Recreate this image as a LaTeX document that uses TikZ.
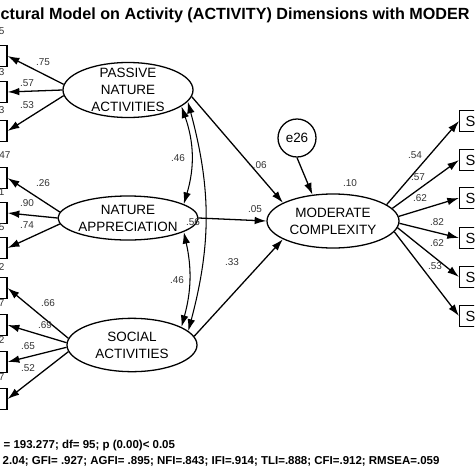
\documentclass[tikz,border=0pt]{standalone}
\usepackage{fontspec}
\setmainfont{Liberation Sans}
\usetikzlibrary{shapes.geometric,arrows.meta}

\begin{document}
\begin{tikzpicture}[x=0.03cm,y=-0.03cm,line width=1.1pt,
  latent/.style={draw,ellipse,inner sep=0pt},
  ltext/.style={align=center,font=\fontsize{11.5}{14.5}\selectfont},
  obsbox/.style={draw,minimum width=0.72cm,minimum height=0.62cm,inner sep=0pt},
  itembox/.style={draw,anchor=west,minimum height=0.62cm,text width=1.0cm,inner xsep=5pt,inner ysep=0pt,align=left,font=\fontsize{12.5}{14}\selectfont},
  effect/.style={-{Latex[length=10pt,width=6.5pt]}},
  cov/.style={{Latex[length=10pt,width=6.5pt]}-{Latex[length=10pt,width=6.5pt]},line width=0.9pt},
  coef/.style={font=\fontsize{8.5}{10}\selectfont,text=black!80,inner sep=0pt},
  frag/.style={font=\fontsize{8.5}{10}\selectfont,text=black!80,inner sep=0pt,anchor=base east}]
  \useasboundingbox (0,0) rectangle (474,474);
  \clip (0,0) rectangle (474,474);
  \node[anchor=base west,inner sep=0pt,font=\bfseries\fontsize{13.8}{16}\selectfont] (title) at (0,19) {ctural Model on Activity (ACTIVITY) Dimensions with MODER};

  % latent variables
  \node[latent,minimum width=3.9cm,minimum height=1.65cm,label={[ltext,name=pnatxt]center:PASSIVE\\NATURE\\ACTIVITIES}] (pna) at (128,90) {};
  \node[latent,minimum width=4.2cm,minimum height=1.32cm,label={[ltext,name=naptxt]center:NATURE\\APPRECIATION}] (nap) at (128,218) {};
  \node[latent,minimum width=3.9cm,minimum height=1.6cm,label={[ltext,name=soctxt]center:SOCIAL\\ACTIVITIES}] (soc) at (132,345) {};
  \node[latent,minimum width=3.96cm,minimum height=1.62cm,label={[ltext,name=modtxt]center:MODERATE\\COMPLEXITY}] (mod) at (333,221) {};
  \node[draw,circle,minimum size=1.14cm,inner sep=0pt,font=\fontsize{11.5}{14}\selectfont] (e26) at (297,138) {e26};

  % observed items, left
  \node[obsbox] (p1) at (-5,56) {};
  \node[obsbox] (p2) at (-5,92) {};
  \node[obsbox] (p3) at (-5,131) {};
  \node[obsbox] (n1) at (-5,178) {};
  \node[obsbox] (n2) at (-5,213) {};
  \node[obsbox] (n3) at (-5,248) {};
  \node[obsbox] (s1) at (-5,288) {};
  \node[obsbox] (s2) at (-5,325) {};
  \node[obsbox] (s3) at (-5,362) {};
  \node[obsbox] (s4) at (-5,399) {};
  \node[frag] (fp1) at (5,34) {5};
  \node[frag] (fp2) at (5,75) {3};
  \node[frag] (fp3) at (5,113) {3};
  \node[frag] (fn1) at (11,158) {47};
  \node[frag] (fn2) at (5,195) {1};
  \node[frag] (fn3) at (5,230) {5};
  \node[frag] (fs1) at (5,270) {2};
  \node[frag] (fs2) at (5,306) {7};
  \node[frag] (fs3) at (5,343) {2};
  \node[frag] (fs4) at (5,380) {7};

  % observed items, right
  \node[itembox] (m1) at (459,121) {S};
  \node[itembox] (m2) at (459,160) {S};
  \node[itembox] (m3) at (459,198) {S};
  \node[itembox] (m4) at (459,238) {S};
  \node[itembox] (m5) at (459,277) {S};
  \node[itembox] (m6) at (459,316) {S};

  % loadings
  \draw[effect] (pna.175) -- (p1.east);
  \draw[effect] (pna.180) -- (p2.east);
  \draw[effect] (pna.185) -- (p3.east);
  \draw[effect] (nap.175) -- (n1.east);
  \draw[effect] (nap.180) -- (n2.east);
  \draw[effect] (nap.185) -- (n3.east);
  \draw[effect] (soc.174) -- (s1.east);
  \draw[effect] (soc.178) -- (s2.east);
  \draw[effect] (soc.182) -- (s3.east);
  \draw[effect] (soc.186) -- (s4.east);
  \draw[effect] (mod.17) -- (m1.west);
  \draw[effect] (mod.12) -- (m2.west);
  \draw[effect] (mod.4) -- (m3.west);
  \draw[effect] (mod.-2) -- (m4.west);
  \draw[effect] (mod.-6) -- (m5.west);
  \draw[effect] (mod.-10) -- (m6.west);

  % structural paths
  \draw[effect] (pna.-6) -- (mod.160);
  \draw[effect] (nap.east) -- (mod.west);
  \draw[effect] (soc.8) -- (mod.200);
  \draw[effect] (e26.south) -- (mod.128);
  \draw[cov] (pna.-17) to[bend left=18] (nap.14);
  \draw[cov] (nap.-14) to[bend left=14] (soc.20);
  \draw[cov] (pna.-11) to[bend left=15] (soc.14);

  % estimates
  \node[coef] (l1) at (43,62) {.75};
  \node[coef] (l2) at (27,83) {.57};
  \node[coef] (l3) at (27,105) {.53};
  \node[coef] (l4) at (43,183) {.26};
  \node[coef] (l5) at (27,203) {.90};
  \node[coef] (l6) at (27,225) {.74};
  \node[coef] (l7) at (48,303) {.66};
  \node[coef] (l8) at (45,325) {.69};
  \node[coef] (l9) at (28,346) {.65};
  \node[coef] (l10) at (28,368) {.52};
  \node[coef] (r1) at (415,155) {.54};
  \node[coef] (r2) at (418,177) {.57};
  \node[coef] (r3) at (420,198) {.62};
  \node[coef] (r4) at (437,222) {.82};
  \node[coef] (r5) at (437,243) {.62};
  \node[coef] (r6) at (435,266) {.53};
  \node[coef] (k1) at (178,158) {.46};
  \node[coef] (k2) at (177,280) {.46};
  \node[coef] (k3) at (193,222) {.56};
  \node[coef] (k4) at (350,183) {.10};
  \node[coef] (k5) at (258,165) {-.06};
  \node[coef] (k6) at (255,209) {.05};
  \node[coef] (k7) at (232,262) {.33};

  % fit indices
  \node[anchor=base west,inner sep=0pt,font=\bfseries\fontsize{9.8}{11}\selectfont] (fit1) at (3,448) {= 193.277; df= 95; p (0.00)< 0.05};
  \node[anchor=base west,inner sep=0pt,font=\bfseries\fontsize{9.8}{11}\selectfont] (fit2) at (2,464) {2.04; GFI= .927; AGFI= .895; NFI=.843; IFI=.914; TLI=.888; CFI=.912; RMSEA=.059};
\end{tikzpicture}
\end{document}
